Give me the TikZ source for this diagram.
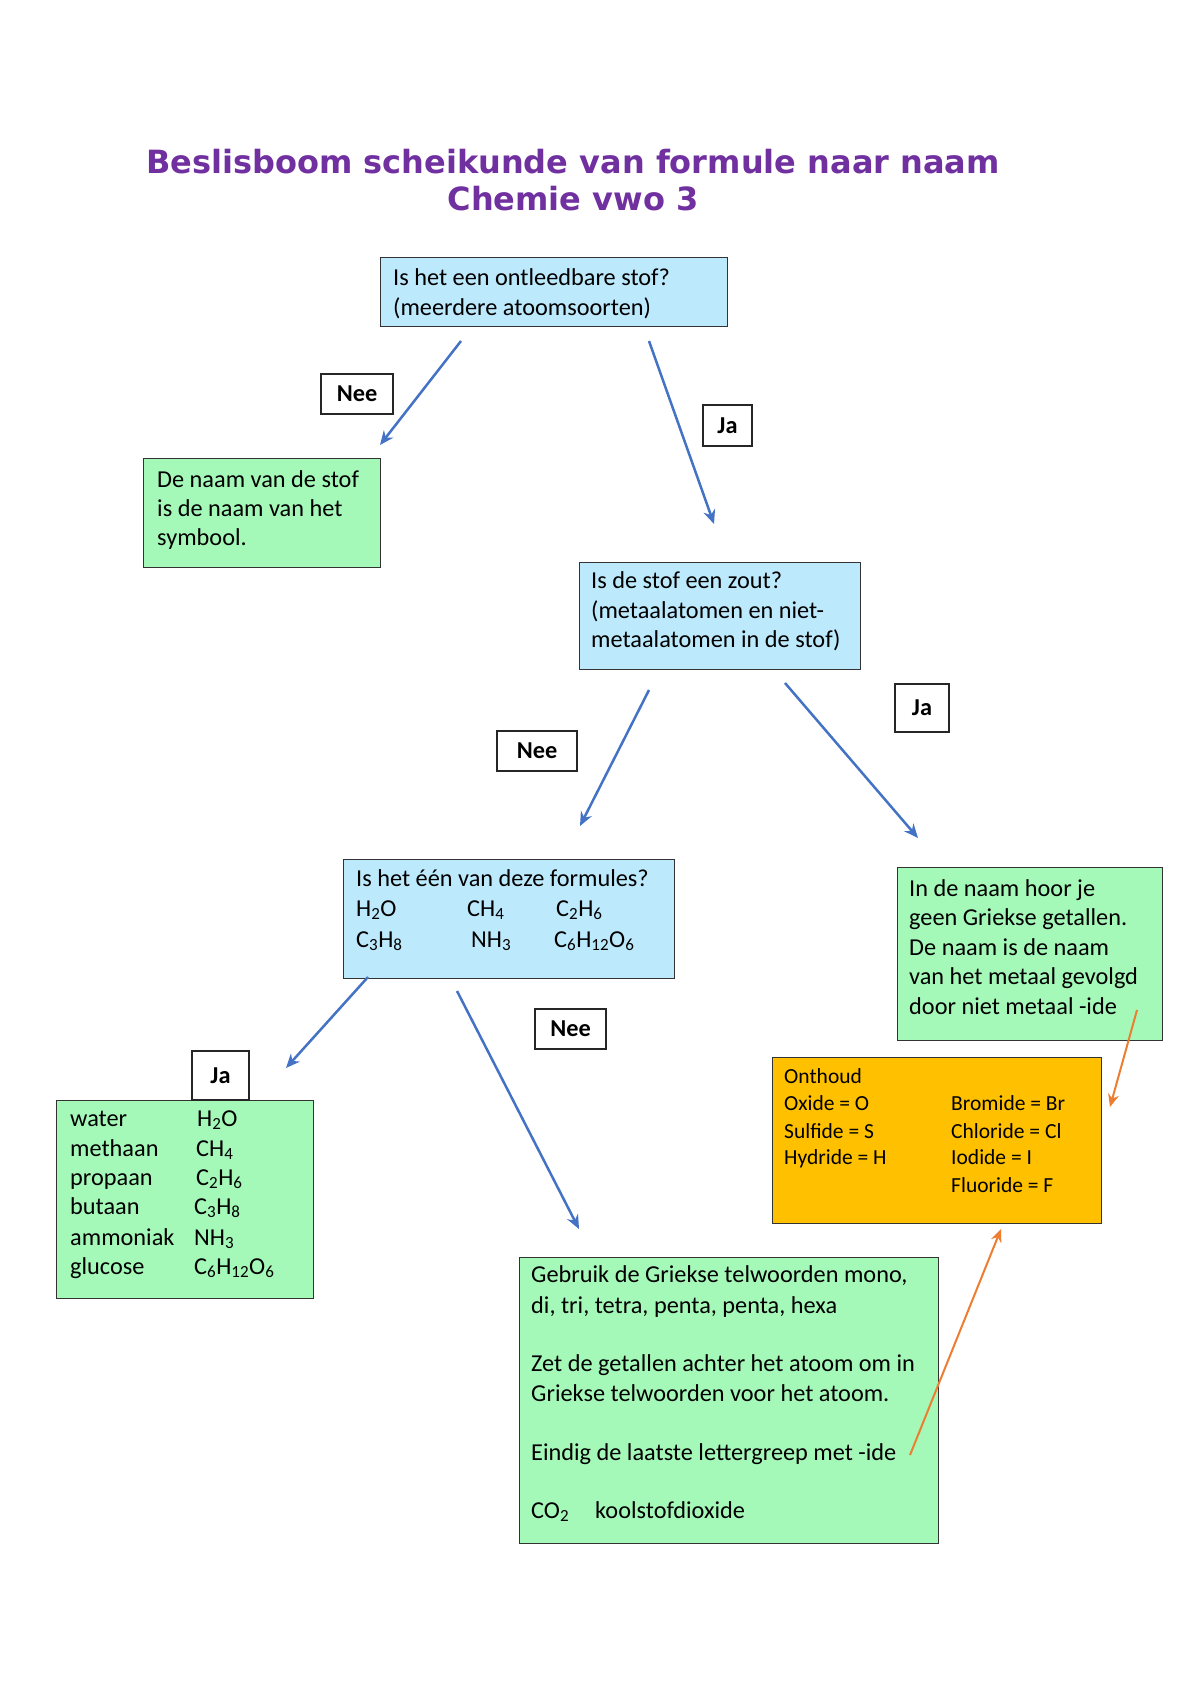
\documentclass[tikz,border=0pt]{standalone}
\usepackage{fontspec}
\setmainfont{Carlito}
\newfontfamily\titlefont{DejaVu Sans}
\usetikzlibrary{arrows.meta}
\definecolor{tpurple}{HTML}{7030A0}
\definecolor{qblue}{HTML}{BDE9FC}
\definecolor{agreen}{HTML}{A5F9B8}
\definecolor{rorange}{HTML}{FFC000}
\definecolor{ablue}{HTML}{4472C4}
\definecolor{aorange}{HTML}{ED7D31}
\newcommand\bodyfont{\fontsize{24.3}{31}\selectfont}
\newcommand\smallbody{\fontsize{21.5}{26}\selectfont}
\tikzset{
 box/.style={draw=black!80, line width=1.3pt, anchor=north west, inner sep=0pt},
 qbox/.style={box, fill=qblue},
 abox/.style={box, fill=agreen},
 rbox/.style={box, fill=rorange},
 lbl/.style={draw=black!85, line width=1.3pt, fill=white, inner sep=0pt, font=\bodyfont\bfseries},
 txt/.style={anchor=base west, inner sep=0pt, font=\bodyfont},
 stxt/.style={anchor=base west, inner sep=0pt, font=\smallbody},
 ttl/.style={anchor=base, inner sep=0pt, text=tpurple, font=\titlefont\bfseries\fontsize{32}{37}\selectfont},
 bluearrow/.style={ablue, line width=2.5pt, -{Stealth[length=14pt,width=12pt]}},
 orangearrow/.style={aorange, line width=2pt, -{Stealth[length=13pt,width=11pt]}},
}
\begin{document}
\begin{tikzpicture}[x=1pt,y=-1pt]
\useasboundingbox (0,0) rectangle (1200,1696);
\fill[white] (0,0) rectangle (1200,1696);

% title
\node[ttl] (title1) at (573,174) {Beslisboom scheikunde van formule naar naam};
\node[ttl] (title2) at (573,211) {Chemie vwo 3};

% boxes
\node[qbox, minimum width=347pt, minimum height=69pt] (q1) at (380,257) {};
\node[abox, minimum width=237pt, minimum height=109pt] (a1) at (143,458) {};
\node[qbox, minimum width=281pt, minimum height=107pt] (q2) at (579,562) {};
\node[qbox, minimum width=331pt, minimum height=119pt] (q3) at (343,859) {};
\node[abox, minimum width=265pt, minimum height=173pt] (a2) at (897,867) {};
\node[rbox, minimum width=329pt, minimum height=166pt] (r1) at (772,1057) {};
\node[abox, minimum width=257pt, minimum height=198pt] (a3) at (56,1100) {};
\node[abox, minimum width=419pt, minimum height=286pt] (a4) at (519,1257) {};

% labels
\node[lbl, minimum width=72pt, minimum height=40pt] (nee1) at (357,394) {Nee};
\node[lbl, minimum width=49pt, minimum height=41pt] (ja1) at (727.5,425.5) {Ja};
\node[lbl, minimum width=80pt, minimum height=40pt] (nee2) at (537,751) {Nee};
\node[lbl, minimum width=54pt, minimum height=48pt] (ja2) at (922,708) {Ja};
\node[lbl, minimum width=71pt, minimum height=40pt] (nee3) at (570.5,1029) {Nee};
\node[lbl, minimum width=57pt, minimum height=49pt] (ja3) at (220.5,1075.5) {Ja};

% texts
\node[txt] (t1a) at (393,285) {Is het een ontleedbare stof?};
\node[txt] (t1b) at (393,315) {(meerdere atoomsoorten)};

\node[txt] (t2a) at (157,487) {De naam van de stof};
\node[txt] (t2b) at (157,516) {is de naam van het};
\node[txt] (t2c) at (157,545) {symbool.};

\node[txt] (t3a) at (591,588) {Is de stof een zout?};
\node[txt] (t3b) at (591,618) {(metaalatomen en niet-};
\node[txt] (t3c) at (591,647) {metaalatomen in de stof)};

\node[txt] (t4a) at (356,886) {Is het één van deze formules?};
\node[txt] (t4b) at (356,916) {H\textsubscript{2}O};
\node[txt] (t4c) at (467,916) {CH\textsubscript{4}};
\node[txt] (t4d) at (556,916) {C\textsubscript{2}H\textsubscript{6}};
\node[txt] (t4e) at (356,947) {C\textsubscript{3}H\textsubscript{8}};
\node[txt] (t4f) at (471,947) {NH\textsubscript{3}};
\node[txt] (t4g) at (554,947) {C\textsubscript{6}H\textsubscript{12}O\textsubscript{6}};

\node[txt] (t5a) at (909,896) {In de naam hoor je};
\node[txt] (t5b) at (909,925) {geen Griekse getallen.};
\node[txt] (t5c) at (909,955) {De naam is de naam};
\node[txt] (t5d) at (909,984) {van het metaal gevolgd};
\node[txt] (t5e) at (909,1014) {door niet metaal -ide};

\node[stxt] (t6a) at (784,1083) {Onthoud};
\node[stxt] (t6b) at (784,1110) {Oxide = O};
\node[stxt] (t6c) at (784,1138) {Sulfide = S};
\node[stxt] (t6d) at (784,1164) {Hydride = H};
\node[stxt] (t6e) at (951,1110) {Bromide = Br};
\node[stxt] (t6f) at (951,1138) {Chloride = Cl};
\node[stxt] (t6g) at (951,1164) {Iodide = I};
\node[stxt] (t6h) at (951,1192) {Fluoride = F};

\node[txt] (t7a) at (70,1126) {water};
\node[txt] (t7b) at (70,1156) {methaan};
\node[txt] (t7c) at (70,1185) {propaan};
\node[txt] (t7d) at (70,1214) {butaan};
\node[txt] (t7e) at (70,1245) {ammoniak};
\node[txt] (t7f) at (70,1274) {glucose};
\node[txt] (t7g) at (197,1126) {H\textsubscript{2}O};
\node[txt] (t7h) at (196,1156) {CH\textsubscript{4}};
\node[txt] (t7i) at (196,1185) {C\textsubscript{2}H\textsubscript{6}};
\node[txt] (t7j) at (194,1214) {C\textsubscript{3}H\textsubscript{8}};
\node[txt] (t7k) at (194,1245) {NH\textsubscript{3}};
\node[txt] (t7l) at (194,1274) {C\textsubscript{6}H\textsubscript{12}O\textsubscript{6}};

\node[txt] (t8a) at (531,1282) {Gebruik de Griekse telwoorden mono,};
\node[txt] (t8b) at (531,1313) {di, tri, tetra, penta, penta, hexa};
\node[txt] (t8c) at (531,1371) {Zet de getallen achter het atoom om in};
\node[txt] (t8d) at (531,1401) {Griekse telwoorden voor het atoom.};
\node[txt] (t8e) at (531,1460) {Eindig de laatste lettergreep met -ide};
\node[txt] (t8f) at (531,1518) {CO\textsubscript{2}};
\node[txt] (t8g) at (595,1518) {koolstofdioxide};

% arrow end points
\coordinate (p1s) at (461,341);  \coordinate (p1e) at (380,445);
\coordinate (p2s) at (649,341);  \coordinate (p2e) at (714,524);
\coordinate (p3s) at (649,690);  \coordinate (p3e) at (580,826);
\coordinate (p4s) at (785,683);  \coordinate (p4e) at (918,838);
\coordinate (p5s) at (368,977);  \coordinate (p5e) at (286,1068);
\coordinate (p6s) at (457,991);  \coordinate (p6e) at (579,1229);
\coordinate (o1s) at (1137,1010); \coordinate (o1e) at (1110,1107);
\coordinate (o2s) at (910,1455); \coordinate (o2e) at (1001,1229);

\draw[bluearrow] (p1s) -- (p1e);
\draw[bluearrow] (p2s) -- (p2e);
\draw[bluearrow] (p3s) -- (p3e);
\draw[bluearrow] (p4s) -- (p4e);
\draw[bluearrow] (p5s) -- (p5e);
\draw[bluearrow] (p6s) -- (p6e);
\draw[orangearrow] (o1s) -- (o1e);
\draw[orangearrow] (o2s) -- (o2e);
\end{tikzpicture}
\end{document}
